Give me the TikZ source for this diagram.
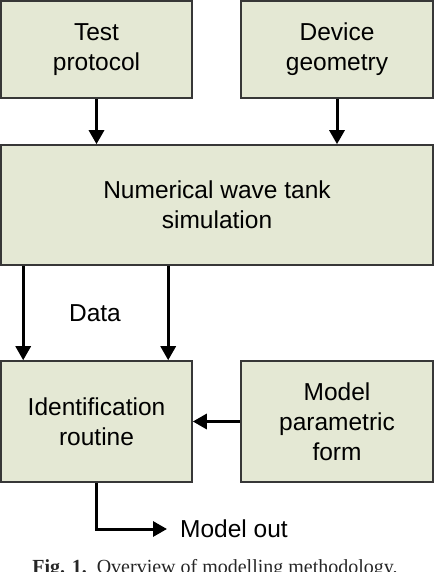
\documentclass[tikz,border=0pt]{standalone}
\usepackage{fontspec}
\setmainfont{Liberation Sans}
\newfontfamily\capfont{Liberation Serif}
\usetikzlibrary{arrows.meta}
\definecolor{boxfill}{RGB}{228,232,212}
\definecolor{boxline}{RGB}{55,55,55}
\begin{document}
\begin{tikzpicture}[x=1pt,y=-1pt,
  box/.style={draw=boxline, line width=1.6pt, fill=boxfill, align=center,
    font=\fontsize{24.5}{30}\selectfont, inner sep=0pt},
  arr/.style={-{Triangle[length=14pt,width=15pt]}, line width=3pt, black},
  lbl/.style={font=\fontsize{24.5}{30}\selectfont, inner sep=0pt}]
\useasboundingbox (0,0) rectangle (434,572);
\node[box, minimum width=191pt, minimum height=97pt] (tp) at (96.5,49.5) {Test\\protocol};
\node[box, minimum width=192pt, minimum height=97pt] (dg) at (337,49.5) {Device\\geometry};
\node[box, minimum width=432pt, minimum height=120pt] (nwt) at (217,205) {Numerical wave tank\\simulation};
\node[box, minimum width=191pt, minimum height=121pt] (id) at (96.5,421.5) {Identification\\routine};
\node[box, minimum width=192pt, minimum height=121pt] (mpf) at (337,421.5) {Model\\parametric\\form};
\draw[arr] (tp.south) -- (tp.south |- nwt.north);
\draw[arr] (dg.south) -- (dg.south |- nwt.north);
\coordinate (d1) at ([xshift=23pt]nwt.south west);
\coordinate (d2) at ([xshift=168pt]nwt.south west);
\draw[arr] (d1) -- (d1 |- id.north);
\draw[arr] (d2) -- (d2 |- id.north);
\node[lbl] (data) at (95,313) {Data};
\draw[arr] (mpf.west) -- (id.east);
\node[lbl, anchor=west] (mo) at (180,529) {Model out};
\draw[arr] (id.south) |- ([xshift=-13pt]mo.west);
\node[font=\capfont\fontsize{20}{24}\selectfont, anchor=base, inner sep=0pt, text=black!85] (cap) at (215,573) {\textbf{Fig. 1.}\ \ Overview of modelling methodology.};
\end{tikzpicture}
\end{document}
